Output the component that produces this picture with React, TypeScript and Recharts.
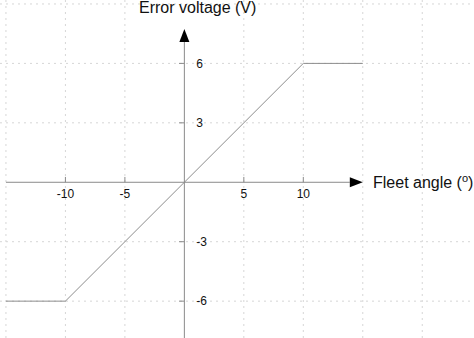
import { LineChart, Line, XAxis, YAxis, ReferenceLine } from "recharts";

// transfer curve: fleet angle (deg) -> error voltage (V)
const angles = [-15, -10, 10, 15];
const voltages = [-6, -6, 6, 6];

const xTicks = [-10, -5, 5, 10];
const yTicks = [6, 3, -3, -6];
const gridX = [-15, -10, -5, 5, 10, 15, 20];
const gridY = [9, 6, 3, -3, -6];

const data = angles.map((a, i) => ({ angle: a, volt: voltages[i] }));

const FONT = "'Liberation Sans', Arial, sans-serif";
const AXIS = "#8a8a8a";

const ArrowRight = (p: any) => {
  const { x1, y1, x2 } = p;
  const head = 13;
  return (
    <g>
      <line x1={x1} y1={y1} x2={x2 - head} y2={y1} stroke={AXIS} strokeWidth={1} />
      <polygon points={`${x2 - head},${y1 - 5} ${x2},${y1} ${x2 - head},${y1 + 5}`} fill="#000" />
    </g>
  );
};

const ArrowUp = (p: any) => {
  const { x1, y1, y2 } = p;
  const top = Math.min(y1, y2);
  const bottom = Math.max(y1, y2);
  const head = 13;
  return (
    <g>
      <line x1={x1} y1={bottom} x2={x1} y2={top + head} stroke={AXIS} strokeWidth={1} />
      <polygon points={`${x1 - 5},${top + head} ${x1},${top} ${x1 + 5},${top + head}`} fill="#000" />
    </g>
  );
};

export default function App() {
  return (
    <div style={{ position: "absolute", left: 0, top: 0, width: 474, height: 338, background: "#fff", fontFamily: FONT }}>
      <LineChart width={474} height={338} data={data} margin={{ top: 0, right: 0, bottom: 0, left: 0 }}>
        <XAxis dataKey="angle" type="number" domain={[-15.5, 24.35]} allowDataOverflow hide />
        <YAxis type="number" domain={[-7.86, 9.2]} allowDataOverflow hide />

        {gridX.map((g) => (
          <ReferenceLine key={`gx${g}`} x={g} stroke="#d6d6d6" strokeDasharray="2 4" />
        ))}
        {gridY.map((g) => (
          <ReferenceLine key={`gy${g}`} y={g} stroke="#d6d6d6" strokeDasharray="2 4" />
        ))}

        <ReferenceLine segment={[{ x: -15, y: 0 }, { x: 15, y: 0 }]} shape={ArrowRight} />
        <ReferenceLine segment={[{ x: 0, y: -7.86 }, { x: 0, y: 7.74 }]} shape={ArrowUp} />

        {xTicks.map((t) => (
          <ReferenceLine
            key={`xt${t}`}
            segment={[{ x: t, y: 0 }, { x: t, y: 0.27 }]}
            stroke={AXIS}
            label={{ value: String(t), position: "bottom", offset: 7, fill: "#111", fontSize: 12, fontFamily: FONT }}
          />
        ))}
        {yTicks.map((t) => (
          <ReferenceLine
            key={`yt${t}`}
            segment={[{ x: -0.45, y: t }, { x: 0, y: t }]}
            stroke={AXIS}
            label={{ value: String(t), position: "right", offset: 12, fill: "#111", fontSize: 12, fontFamily: FONT }}
          />
        ))}

        <Line
          dataKey="volt"
          type="linear"
          stroke="#8c8c8c"
          strokeWidth={1}
          dot={false}
          activeDot={false}
          isAnimationActive={false}
        />
      </LineChart>
      <div style={{ position: "absolute", left: 139, top: -1, fontSize: 16, color: "#111", whiteSpace: "nowrap" }}>
        Error voltage (V)
      </div>
      <div style={{ position: "absolute", left: 373, top: 172, fontSize: 16, color: "#111", whiteSpace: "nowrap" }}>
        Fleet angle (<sup style={{ fontSize: 11 }}>o</sup>)
      </div>
    </div>
  );
}
